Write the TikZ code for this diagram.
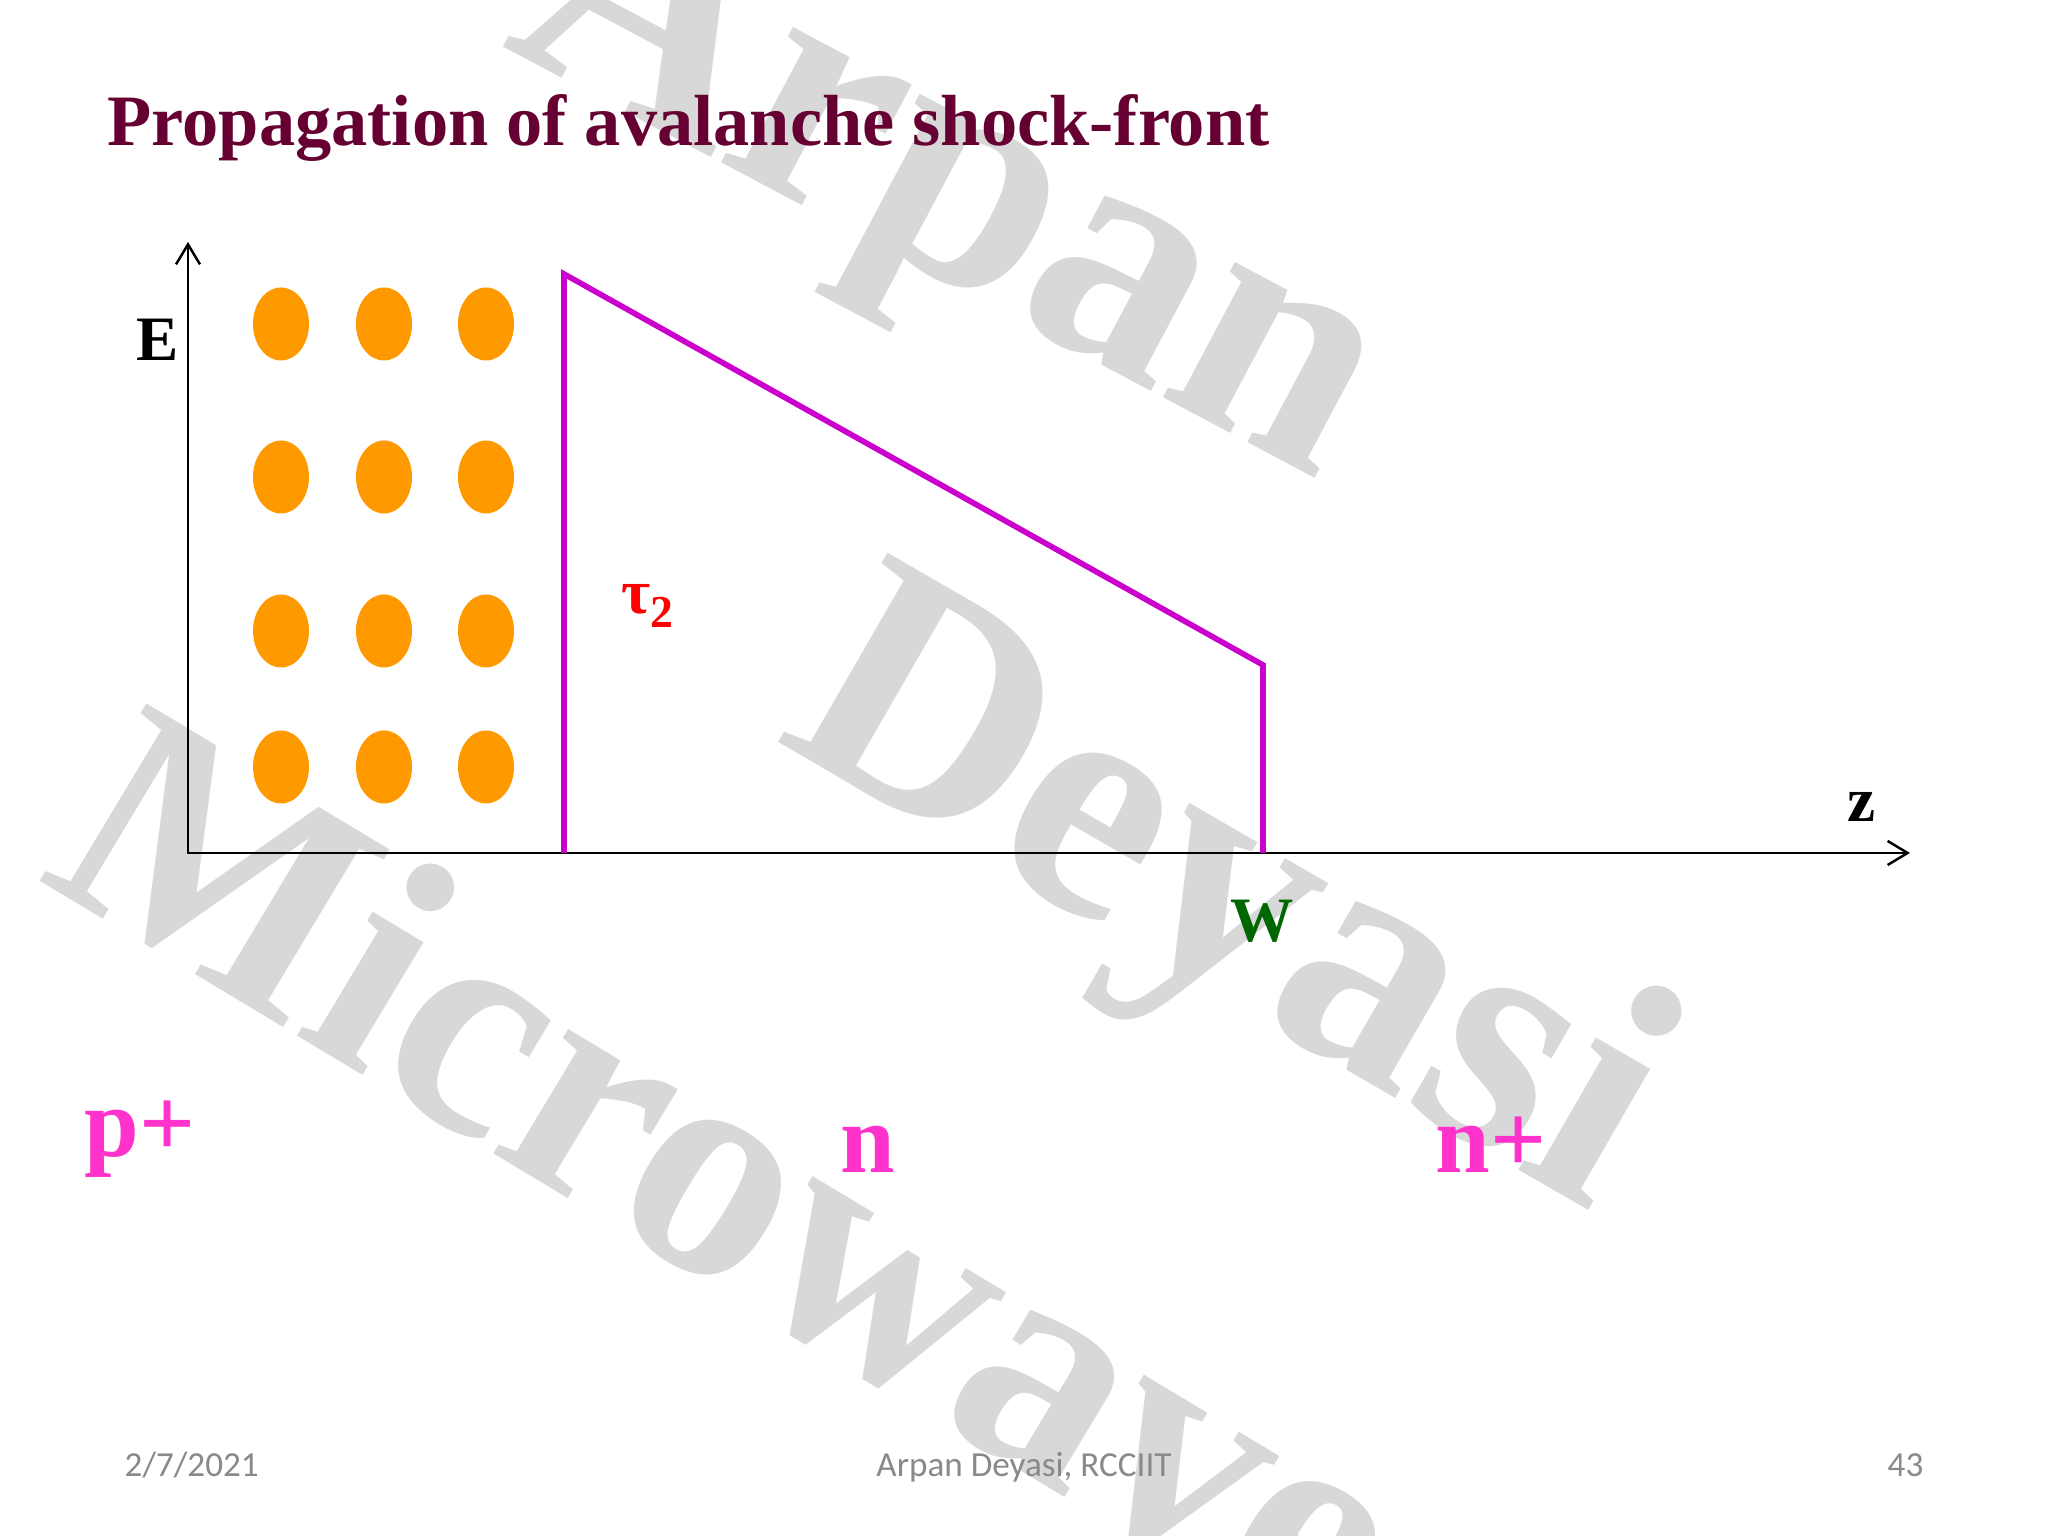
\documentclass[tikz,border=0pt]{standalone}
\usepackage{fontspec}
\setmainfont{Liberation Serif}
\newfontfamily\footfont{Carlito}
\usetikzlibrary{arrows.meta,shapes.geometric}

\definecolor{titlered}{HTML}{660033}
\definecolor{shockpink}{HTML}{CC00CC}
\definecolor{dotorange}{HTML}{FF9900}
\definecolor{dopepink}{HTML}{FF33CC}
\definecolor{wgreen}{HTML}{006600}
\definecolor{footgray}{HTML}{898989}
\definecolor{markgray}{HTML}{D8D8D8}

\begin{document}
\begin{tikzpicture}[
    carrier/.style={ellipse,fill=dotorange,minimum width=5.6mm,minimum height=7.3mm,inner sep=0pt},
    axislabel/.style={font=\bfseries\fontsize{18}{18}\selectfont,inner sep=0pt},
    region/.style={font=\bfseries\fontsize{28}{28}\selectfont,text=dopepink,anchor=base,inner sep=0pt},
    footer/.style={font=\footfont\fontsize{10}{10}\selectfont,text=footgray,anchor=base,inner sep=0pt},
    stamp/.style={font=\bfseries\fontsize{95}{95}\selectfont,text=markgray,anchor=base,inner sep=0pt}
]
    \useasboundingbox[fill=white] (0,0) rectangle (20.48,15.36);

    % watermark
    \node[stamp,rotate=-28] (markA) at (9.10,12.73) {Arpan};
    \node[stamp,rotate=-30] (markD) at (11.83,5.60) {Deyasi};
    \node[stamp,rotate=-31,font=\bfseries\fontsize{90}{90}\selectfont] (markM) at (6.80,2.70) {Microwave};

    % title
    \node[anchor=base west,inner sep=0pt,text=titlered,font=\bfseries\fontsize{20.6}{20.6}\selectfont] (title) at (1.07,13.90) {Propagation of avalanche shock-front};

    % axes
    \coordinate (O) at (1.88,6.83);
    \coordinate (Etop) at (1.88,12.94);
    \coordinate (zend) at (19.10,6.83);
    \draw[line width=0.7pt,{Straight Barb[length=2mm,width=2.4mm]}-{Straight Barb[length=2mm,width=2.4mm]}] (Etop) |- (zend);
    \node[axislabel] (E) at (1.58,11.96) {E};
    \node[axislabel] (z) at (18.62,7.29) {z};

    % avalanche carriers
    \foreach \col/\x in {1/2.81,2/3.84,3/4.86}
        \foreach \row/\y in {1/12.12,2/10.59,3/9.05,4/7.69}
            \node[carrier] (dot-\col-\row) at (\x,\y) {};

    % shock-front field profile
    \coordinate (front-base) at (5.64,6.83);
    \coordinate (front-top) at (5.64,12.62);
    \coordinate (w-top) at (12.63,8.71);
    \coordinate (w-base) at (12.63,6.83);
    \draw[shockpink,line width=1.6pt] (front-base) -- (front-top) -- (w-top) -- (w-base);
    \node[text=red,font=\bfseries\fontsize{18}{18}\selectfont,inner sep=0pt] (tau) at (6.47,9.30) {τ\raisebox{-4pt}{\fontsize{13}{13}\selectfont 2}};
    \node[axislabel,text=wgreen] (W) at (12.62,6.15) {W};

    % regions
    \node[region] (pplus) at (1.40,3.79) {p+};
    \node[region] (nreg) at (8.68,3.63) {n};
    \node[region] (nplus) at (14.91,3.63) {n+};

    % footer
    \node[footer,anchor=base west] (date) at (1.24,0.59) {2/7/2021};
    \node[footer] (author) at (10.24,0.59) {Arpan Deyasi, RCCIIT};
    \node[footer,anchor=base east] (page) at (19.24,0.59) {43};

\end{tikzpicture}
\end{document}
